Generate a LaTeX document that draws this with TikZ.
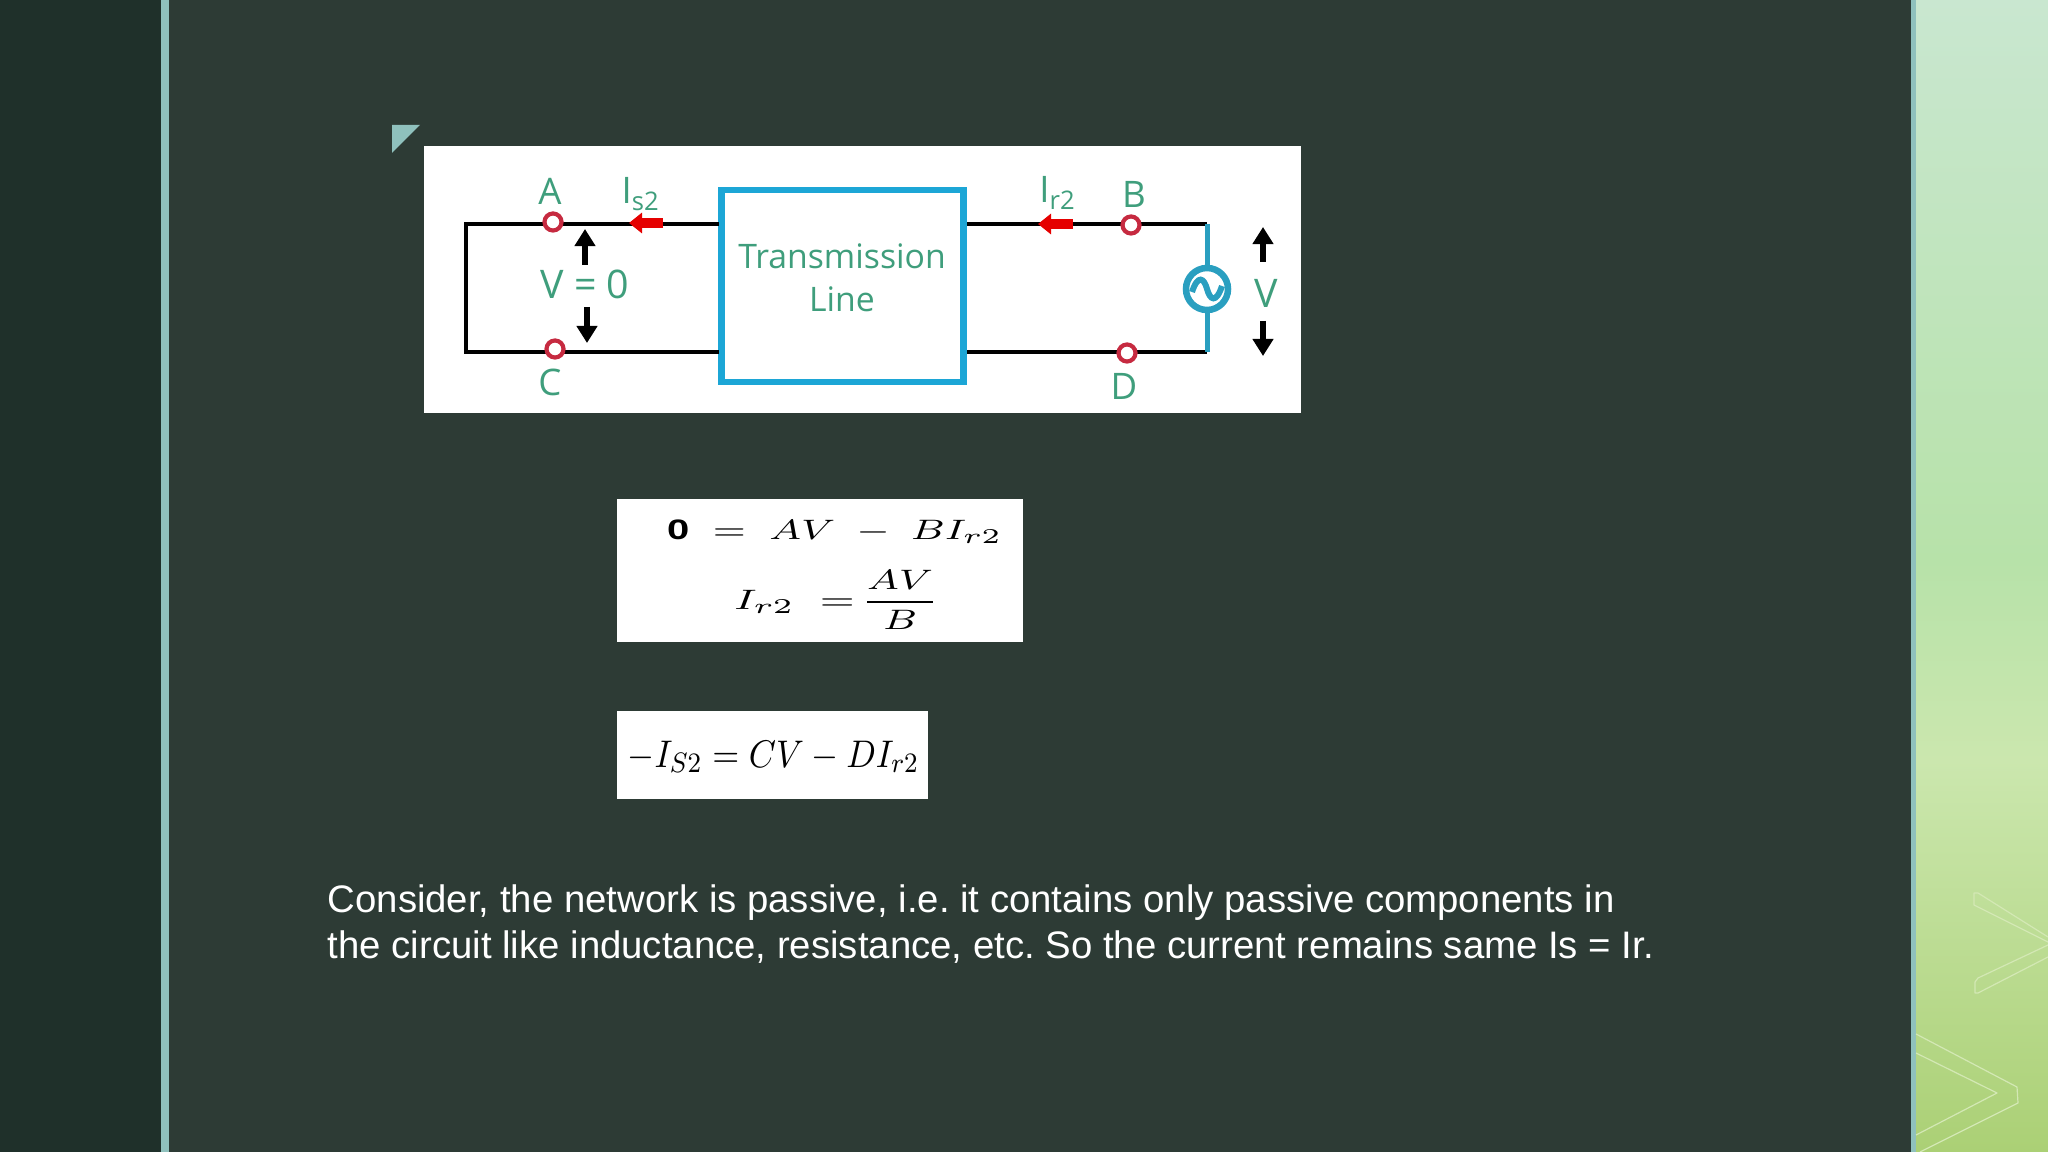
\documentclass[tikz,border=0pt]{standalone}
\usepackage{fontspec}
\setmainfont{Liberation Sans}
\newfontfamily\labelfont{Open Sans}
\usetikzlibrary{arrows.meta}
\definecolor{bandleft}{HTML}{1F302A}
\definecolor{slidemain}{HTML}{2D3B35}
\definecolor{stripe}{HTML}{8FC1BD}
\definecolor{boxblue}{HTML}{1CA6D6}
\definecolor{srcblue}{HTML}{2A9FC0}
\definecolor{labelgreen}{HTML}{3F9E7C}
\definecolor{termred}{HTML}{C62A40}
\definecolor{chevron}{HTML}{D3E8B4}
\definecolor{sidetop}{HTML}{C9E7D0}
\definecolor{sidemid}{HTML}{B7E2A9}
\definecolor{sidelow}{HTML}{CBE7AE}
\definecolor{sidebot}{HTML}{ABD075}
\frenchspacing
\tikzset{
	wire/.style={line width=0.04cm, black},
	srcwire/.style={line width=0.05cm, srcblue},
	terminal/.style={circle, draw=termred, fill=white, line width=0.042cm, minimum size=0.17cm, inner sep=0pt},
	lbl/.style={text=labelgreen, font=\labelfont\fontsize{10.4}{12}\selectfont, inner sep=0pt},
	volt/.style={line width=0.06cm, black, -{Triangle[length=0.17cm, width=0.2cm]}},
	curr/.style={line width=0.1cm, red!90!black, -{Triangle[length=0.13cm, width=0.2cm]}},
	eqn/.style={text=black, inner sep=0pt, anchor=base west},
	chev/.style={line width=0.012cm, chevron, line join=round},
}

\begin{document}
\begin{tikzpicture}[x=0.01cm, y=-0.01cm]
				\useasboundingbox (0, 0) rectangle (2048, 1152);
				\fill[slidemain] (0, 0) rectangle (2048, 1152);
				\fill[bandleft] (0, 0) rectangle (161, 1152);
				\fill[stripe] (161, 0) rectangle (169, 1152);
				\shade[top color=sidetop, bottom color=sidemid] (1916, 0) rectangle (2048, 560);
				\shade[top color=sidemid, bottom color=sidelow] (1916, 560) rectangle (2048, 760);
				\shade[top color=sidelow, bottom color=sidebot] (1916, 760) rectangle (2048, 1152);
				\fill[stripe] (1911, 0) rectangle (1916, 1152);
				
				\draw[chev] (2048, 937) -- (1978, 893) -- (1974, 893) -- (1974, 905) -- (2048, 942);
				\draw[chev] (2048, 945) -- (1978, 978) -- (1975, 982) -- (1975, 993) -- (1978, 993) -- (2048, 957);
				\draw[chev] (1916, 1034) -- (2017, 1087) -- (2018, 1103) -- (1920, 1152);
				\draw[chev] (1916, 1053) -- (1997, 1093) -- (1916, 1135);
				
				\fill[stripe] (392, 125) -- (420, 125) -- (392, 153) -- cycle;
				
				\fill[white] (424, 146) rectangle (1301, 413);
				\fill[white] (617, 499) rectangle (1023, 642);
				\fill[white] (617, 711) rectangle (928, 799);
				
				\node[draw=boxblue, line width=0.065cm, minimum width=2.415cm, minimum height=1.92cm, inner sep=0pt] (tline) at (842.5, 286) {};
				\node[lbl, font=\labelfont\fontsize{9.6}{11}\selectfont] (tlinetop) at (842, 256) {Transmission};
				\node[lbl, font=\labelfont\fontsize{9.6}{11}\selectfont] (tlinebot) at (842, 299) {Line};
				
				\coordinate (cornertl) at (466, 224);
				\coordinate (cornerbl) at (466, 352);
				\coordinate (boxtl) at (717, 224);
				\coordinate (boxbl) at (717, 352);
				\coordinate (boxtr) at (967, 224);
				\coordinate (boxbr) at (967, 352);
				\coordinate (cornertr) at (1207, 224);
				\coordinate (cornerbr) at (1207, 352);
				
				\draw[wire, line cap=rect] (boxtl) -- (cornertl) -- (cornerbl) -- (boxbl);
				\draw[wire] (boxtr) -- (cornertr);
				\draw[wire] (boxbr) -- (cornerbr);
				
				\node[circle, draw=srcblue, fill=white, line width=0.065cm, minimum size=0.42cm, inner sep=0pt] (src) at (1207, 289) {};
				\draw[srcwire] (cornertr) -- (src);
				\draw[srcwire] (cornerbr) -- (src);
				\draw[line width=0.06cm, srcblue] (1192, 292) .. controls (1198, 274) and (1204, 278) .. (1207, 289) .. controls (1210, 300) and (1216, 304) .. (1222, 286);
				
				\node[terminal] (a) at (553, 222) {};
				\node[terminal] (c) at (555, 349) {};
				\node[terminal] (b) at (1131, 225) {};
				\node[terminal] (d) at (1127, 353) {};
				
				\node[lbl] (alabel) at (550, 191) {A};
				\node[lbl] (clabel) at (550, 382) {C};
				\node[lbl] (blabel) at (1134, 194) {B};
				\node[lbl] (dlabel) at (1124, 386) {D};
				\node[lbl] (is) at (641, 194) {I\textsubscript{s2}};
				\node[lbl] (ir) at (1058, 193) {I\textsubscript{r2}};
				\node[lbl, font=\labelfont\fontsize{11.2}{13}\selectfont] (vzero) at (585, 284) {V = 0};
				\node[lbl, font=\labelfont\fontsize{11.2}{13}\selectfont] (v) at (1266, 293) {V};
				
				\coordinate (upatail) at (585, 265);
				\coordinate (upatip) at (585, 229);
				\coordinate (downatail) at (587, 307);
				\coordinate (downatip) at (587, 343);
				\coordinate (upbtail) at (1263, 262);
				\coordinate (upbtip) at (1263, 227);
				\coordinate (downbtail) at (1263, 321);
				\coordinate (downbtip) at (1263, 356);
				\draw[volt] (upatail) -- (upatip);
				\draw[volt] (downatail) -- (downatip);
				\draw[volt] (upbtail) -- (upbtip);
				\draw[volt] (downbtail) -- (downbtip);
				
				\coordinate (istail) at (663, 223);
				\coordinate (istip) at (629, 223);
				\coordinate (irtail) at (1073, 224);
				\coordinate (irtip) at (1038, 224);
				\draw[curr] (istail) -- (istip);
				\draw[curr] (irtail) -- (irtip);
				
				\node[eqn, xscale=1.42, font=\fontsize{8}{10}\selectfont] (eqa) at (666, 540) {$\mathbf{0}\;=\;AV\;-\;BI_{r2}$};
				\node[eqn, xscale=1.5, font=\fontsize{8}{10}\selectfont] (eqb) at (733, 610) {$I_{r2}\;=$};
				\node[text=black, inner sep=0pt, xscale=1.42, font=\fontsize{8}{10}\selectfont] (eqc) at (900, 600) {$\displaystyle\frac{AV}{B}$};
				\node[eqn, xscale=0.9, font=\fontsize{11}{13}\selectfont] (eqd) at (627, 767) {$-I_{S2}=CV-DI_{r2}$};
				
				\node[text=white, inner sep=0pt, anchor=base west, font=\fontsize{10.9}{13}\selectfont] (linea) at (327, 912) {Consider, the network is passive, i.e. it contains only passive components in};
				\node[text=white, inner sep=0pt, anchor=base west, font=\fontsize{10.9}{13}\selectfont] (lineb) at (327, 958) {the circuit like inductance, resistance, etc. So the current remains same Is = Ir.};
			\end{tikzpicture}
\end{document}
